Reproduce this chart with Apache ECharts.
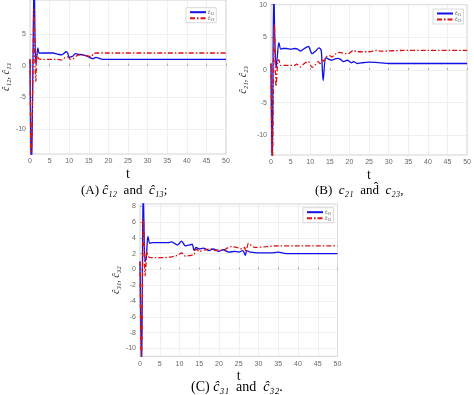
<!DOCTYPE html>
<html><head><meta charset="utf-8">
<script src="https://cdn.jsdelivr.net/npm/echarts@6/dist/echarts.min.js"></script>
<style>html,body{margin:0;padding:0;background:#fff}#c{width:474px;height:395px}</style>
</head><body><div id="c"></div>
<script>
// Panel A
const tA12 = [0,0.35,0.75,1.05,1.35,1.55,2.0,2.4,3,4,5,6,6.5,7.2,8,8.6,9.2,9.6,10,10.5,10.9,11.6,12.5,13.5,14.5,15.5,16,16.8,17.5,18.5,20,25,30,40,50];
const c12  = [1,-18,0,14,2,0.2,2.8,1.95,2.0,2.0,2.0,2.0,1.9,1.8,1.7,1.9,2.2,2.0,1.3,1.4,1.5,1.9,1.8,1.7,1.5,1.2,1.1,1.3,1.2,1.0,1.0,1.0,1.0,1.0,1.0];
const tA13 = [0,0.3,0.7,1.0,1.25,1.5,1.75,2.2,3,5,7,8,9,9.7,10.3,11,12,13,14,15,15.6,16.2,17,20,30,40,50];
const c13  = [1,-16,-3,9,1,-2.5,1.8,1.1,1.0,1.0,1.0,0.9,1.3,1.4,1.0,1.1,1.6,1.7,1.6,1.5,1.4,1.9,2.0,2.0,2.0,2.0,2.0];
// Panel B
const tB21 = [0,0.3,0.7,1.0,1.3,1.6,2.0,2.5,3,4,5,6,6.8,7.5,8.5,9.5,10.5,11.5,12.2,12.8,13.3,14,15,15.5,16.3,17,17.8,18.5,19.5,20.5,21,22,23,25,28,30,35,40,50];
const c21  = [1,-16,13,4,0.3,2,4.2,3.2,3.3,3.3,3.2,3.3,3.2,2.9,3.3,3.6,2.5,3.0,3.4,3.0,-1.6,1.9,1.6,1.5,1.7,1.8,1.6,1.3,1.5,1.1,1.3,1.0,1.1,1.2,1.1,1.0,1.0,1.0,1.0];
const tB23 = [0,0.35,0.85,1.3,1.7,2.0,2.5,4,6,6.5,7.5,8.5,9.5,10.5,11.3,12,12.5,13.2,13.5,14,15,15.5,16.5,17.5,19,20,21,22,25,27,28,34,40,50];
const c23  = [1,-15,7,-2.5,1.0,1.6,0.7,0.7,0.7,0.9,0.5,1.0,1.3,0.4,0.8,1.3,1.0,1.7,1.3,2.0,2.2,2.0,2.5,2.7,2.5,2.6,3.0,2.8,2.8,3.0,2.9,3.0,3.0,3.0];
// Panel C
const tC31 = [0,0.4,0.8,1.1,1.3,1.6,2.0,2.5,3,5,7,8,9.5,10.5,11.5,12.5,13.2,13.7,14.2,15,16,17.5,18.5,20,21,22.5,24,25,26,26.7,27,28,30,33,35,37,40,50];
const c31  = [1,-13,11,3,1,1.5,4.2,3.3,3.4,3.4,3.4,3.5,3.1,3.6,3.0,3.1,3.2,2.4,2.8,2.6,2.7,2.4,2.6,2.3,2.5,2.2,2.3,2.2,2.4,1.8,2.4,2.2,2.1,2.1,2.2,2.0,2.0,2.0];
const tC32 = [0,0.35,0.9,1.3,1.5,1.7,2.0,2.5,4,6,8,9.5,10.5,11.5,13,13.7,14.2,15,16.5,18,19,20,21,22,23,24.5,26,26.5,26.8,27.5,29,32,35,40,50];
const c32  = [1,-12,6.5,-0.8,0.5,2.3,1.8,1.5,1.5,1.5,1.6,1.8,2.1,1.7,1.8,1.9,2.6,2.3,2.5,2.6,2.4,2.5,2.4,2.7,2.9,2.8,2.6,2.8,2.2,3.3,2.8,2.9,3.0,3.0,3.0];

const yTicksA = [-10,-5,0,5];
const yTicksB = [-10,-5,0,5,10];
const yTicksC = [-10,-8,-6,-4,-2,0,2,4,6,8];
const names = ['ĉ₁₂','ĉ₁₃','ĉ₂₁','ĉ₂₃','ĉ₃₁','ĉ₃₂'];

const zip = (t,v) => t.map((x,i)=>[x,v[i]]);
const BLUE = '#1010e8', RED = '#e01010';
const lab = {fontSize:7, color:'#666', fontFamily:'Liberation Sans'};
function xAx(gi){ return {type:'value', gridIndex:gi, min:0, max:50, interval:5,
  name:'t', nameLocation:'middle', nameGap:13,
  nameTextStyle:{fontFamily:'Liberation Serif', fontSize:14, color:'#111'},
  axisLine:{show:false}, axisTick:{show:true, inside:true, length:2, lineStyle:{color:'#aaa'}},
  axisLabel:Object.assign({margin:4}, lab),
  splitLine:{show:true, lineStyle:{color:'#e6e6e6', width:0.6}}}; }
function yAx(gi,min,max,ticks,name,gap){ return {type:'value', gridIndex:gi, min:min, max:max,
  name:name, nameLocation:'middle', nameGap:gap, nameRotate:90,
  nameTextStyle:{fontFamily:'Liberation Serif', fontStyle:'italic', fontSize:10, color:'#222'},
  axisLine:{show:false}, axisTick:{show:true, inside:true, length:2, customValues:ticks, lineStyle:{color:'#aaa'}},
  axisLabel:Object.assign({margin:4, customValues:ticks}, lab),
  splitLine:{show:true, lineStyle:{color:'#e6e6e6', width:0.6}}}; }
function ser(name, data, xi, blue){ return {name:name, type:'line', xAxisIndex:xi, yAxisIndex:xi,
  data:data, showSymbol:false, symbol:'none', smooth:0.3, animation:false,
  lineStyle: blue ? {color:BLUE, width:1.3} : {color:RED, width:1.3, type:[5,2,1.5,2]},
  itemStyle:{color: blue?BLUE:RED}}; }
function leg(names2, left, top){ return {data:names2, orient:'vertical', left:left, top:top,
  backgroundColor:'#fff', borderColor:'#c8c8c8', borderWidth:0.7, borderRadius:0,
  padding:[2,2,2,3], itemGap:1, itemWidth:16, itemHeight:6,
  itemStyle:{opacity:0, borderWidth:0},
  textStyle:{fontSize:5, color:'#555', padding:[0,0,0,-3]}}; }

const capRich = {
  n:{fontFamily:'Liberation Serif', fontSize:13, color:'#111'},
  i:{fontFamily:'Liberation Serif', fontStyle:'italic', fontSize:13, color:'#111'},
  N:{fontFamily:'Liberation Serif', fontSize:14, color:'#111'},
  I:{fontFamily:'Liberation Serif', fontStyle:'italic', fontSize:14, color:'#111'}
};

const option = {
  animation:false,
  grid:[
    {left:27, right:248, top:0, bottom:241, show:true, borderColor:'#c8c8c8', borderWidth:0.8, backgroundColor:'#fff'},
    {left:271, right:5.5, top:4.7, bottom:240, show:true, borderColor:'#c8c8c8', borderWidth:0.8, backgroundColor:'#fff'},
    {left:140, right:136.5, top:204, bottom:38.7, show:true, borderColor:'#c8c8c8', borderWidth:0.8, backgroundColor:'#fff'}
  ],
  xAxis:[xAx(0), xAx(1), xAx(2)],
  yAxis:[yAx(0,-14,10.4,yTicksA,'ĉ₁₂, ĉ₁₃',19), yAx(1,-13,10,yTicksB,'ĉ₂₁, ĉ₂₃',23), yAx(2,-11,8.3,yTicksC,'ĉ₃₁, ĉ₃₂',19)],
  legend:[leg([names[0],names[1]],186,7.7), leg([names[2],names[3]],433,9), leg([names[4],names[5]],303,207.7)],
  series:[
    ser(names[0], zip(tA12,c12), 0, true), ser(names[1], zip(tA13,c13), 0, false),
    ser(names[2], zip(tB21,c21), 1, true), ser(names[3], zip(tB23,c23), 1, false),
    ser(names[4], zip(tC31,c31), 2, true), ser(names[5], zip(tC32,c32), 2, false)
  ],
  graphic:[
    {type:'text', left:81, top:184, style:{text:'{n|(A) }{i|ĉ₁₂}{n|  and  }{i|ĉ₁₃}{n|;}', rich:capRich}},
    {type:'text', left:315, top:184, style:{text:'{n|(B)  }{i|c₂₁}{n|  and\u0302  }{i|c₂₃}{n|,}', rich:capRich}},
    {type:'text', left:191, top:380, style:{text:'{N|(C) }{I|ĉ₃₁}{N|  and  }{I|ĉ₃₂}{N|.}', rich:capRich}}
  ]
};
const chart = echarts.init(document.getElementById('c'), null, {renderer:'canvas'});
chart.setOption(option);
</script></body></html>
